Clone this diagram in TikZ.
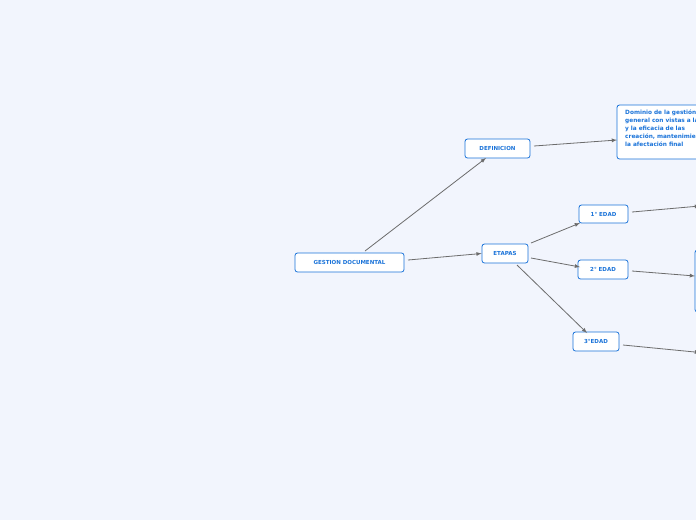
\documentclass[tikz,border=0pt]{standalone}
\usepackage{fontspec}
\setmainfont{DejaVu Sans}
\definecolor{nb}{HTML}{1A73D9}
\definecolor{bg}{HTML}{F2F5FD}
\begin{document}
\begin{tikzpicture}[x=1pt,y=-1pt,
 box/.style={draw=nb,line width=0.8pt,fill=white,rounded corners=2.5pt,font=\fontsize{5.5}{6.5}\selectfont\bfseries,text=nb,inner sep=0pt,minimum height=19pt},
 conn/.style={draw=gray!85!black,line width=0.8pt,-latex}]
\fill[bg] (0,0) rectangle (696,520);
\useasboundingbox (0,0) rectangle (696,520);
\clip (0,0) rectangle (696,520);
\node[box,minimum width=109pt] (g) at (349.5,262.5) {GESTION DOCUMENTAL};
\node[box,minimum width=65pt] (d) at (497.5,148.5) {DEFINICION};
\node[box,minimum width=46pt] (e) at (505,253.5) {ETAPAS};
\node[box,minimum width=49pt,minimum height=18pt] (e1) at (603.5,214) {1° EDAD};
\node[box,minimum width=50pt] (e2) at (603,269.5) {2° EDAD};
\node[box,minimum width=46pt] (e3) at (596,341.5) {3°EDAD};
\draw[nb,line width=0.8pt,fill=white,rounded corners=2.5pt] (617,105) rectangle (770,159);
\draw[nb,line width=0.8pt,fill=white,rounded corners=2.5pt] (695,250) rectangle (770,312);
\node[anchor=north west,align=left,text width=140pt,inner sep=0pt,text=nb,font=\fontsize{5.8}{7.8}\selectfont\bfseries] (df) at (625,110) {Dominio de la gestión\\general con vistas a la\\y la eficacia de las\\creación, mantenimiento\\la afectación final};
\coordinate (dfw) at (617,140);
\coordinate (b2w) at (695,276);
\coordinate (t1) at (700,206);
\coordinate (t3) at (700,352.5);
\draw[conn] (365,251) -- (486,158);
\draw[conn] (408,260) -- (e.west);
\draw[conn] (534,146) -- (dfw);
\draw[conn] (531,243) -- (580,223);
\draw[conn] (531,258) -- (580,267);
\draw[conn] (517,265) -- (587,333);
\draw[conn] (632,212) -- (t1);
\draw[conn] (632,271) -- (b2w);
\draw[conn] (623,345) -- (t3);
\end{tikzpicture}
\end{document}
